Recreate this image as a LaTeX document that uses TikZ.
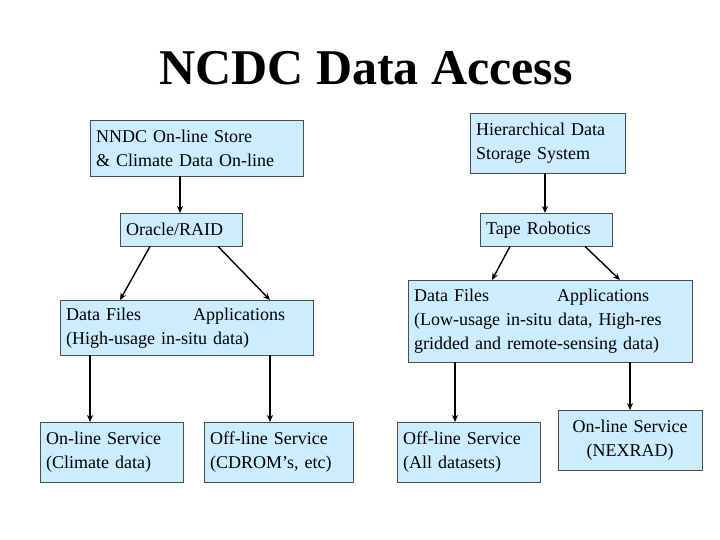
\documentclass[tikz,border=0pt]{standalone}
\usepackage{fontspec}
\usetikzlibrary{arrows.meta}
\setmainfont{Liberation Serif}
\definecolor{boxblue}{HTML}{CCECFF}
\begin{document}
\begin{tikzpicture}[x=1pt,y=-1pt,
  bx/.style={draw=black!70,fill=boxblue,anchor=north west,inner xsep=6pt,inner ysep=2pt,align=left,font=\fontsize{18}{24}\selectfont},
  arr/.style={-{Stealth[length=7pt,width=6pt]},line width=1.4pt}]
\useasboundingbox (0,0) rectangle (720,540);
\node[font=\fontsize{50}{56}\selectfont\bfseries] (title) at (366,68) {NCDC Data Access};
\node[bx,minimum width=213pt,minimum height=56pt,text width=201pt] (nndc) at (90,120) {NNDC On-line Store\\\& Climate Data On-line};
\node[bx,minimum width=155pt,minimum height=60pt,text width=143pt] (hier) at (470,113) {Hierarchical Data\\Storage System};
\node[bx,minimum width=122pt,minimum height=33pt,text width=110pt] (orac) at (120,213) {Oracle/RAID};
\node[bx,minimum width=132pt,minimum height=33pt,text width=120pt] (tape) at (480,213) {Tape Robotics};
\node[bx,minimum width=253pt,minimum height=55pt,text width=241pt] (dfl) at (60,300) {Data Files\hspace{52pt}Applications\\(High-usage in-situ data)};
\node[bx,minimum width=284pt,minimum height=82pt,text width=272pt] (dfr) at (408,280) {Data Files\hspace{68pt}Applications\\(Low-usage in-situ data, High-res\\gridded and remote-sensing data)};
\node[bx,minimum width=143pt,minimum height=60pt,text width=131pt] (on1) at (40,422) {On-line Service\\(Climate data)};
\node[bx,minimum width=149pt,minimum height=60pt,text width=137pt] (off1) at (204,422) {Off-line Service\\(CDROM’s, etc)};
\node[bx,minimum width=143pt,minimum height=60pt,text width=131pt] (off2) at (397,422) {Off-line Service\\(All datasets)};
\node[bx,minimum width=144pt,minimum height=60pt,text width=132pt,align=center] (on2) at (558,410) {On-line Service\\(NEXRAD)};
\draw[arr] (nndc.south -| 180,0) -- (orac.north -| 180,0);
\draw[arr] (hier.south -| 545,0) -- (tape.north -| 545,0);
\draw[arr] (orac.south -| 150,0) -- (dfl.north -| 120,0);
\draw[arr] (orac.south -| 218,0) -- (dfl.north -| 270,0);
\draw[arr] (tape.south -| 510,0) -- (dfr.north -| 492,0);
\draw[arr] (tape.south -| 585,0) -- (dfr.north -| 620,0);
\draw[arr] (dfl.south -| 90,0) -- (on1.north -| 90,0);
\draw[arr] (dfl.south -| 270,0) -- (off1.north -| 270,0);
\draw[arr] (dfr.south -| 455,0) -- (off2.north -| 455,0);
\draw[arr] (dfr.south -| 630,0) -- (on2.north -| 630,0);
\end{tikzpicture}
\end{document}
